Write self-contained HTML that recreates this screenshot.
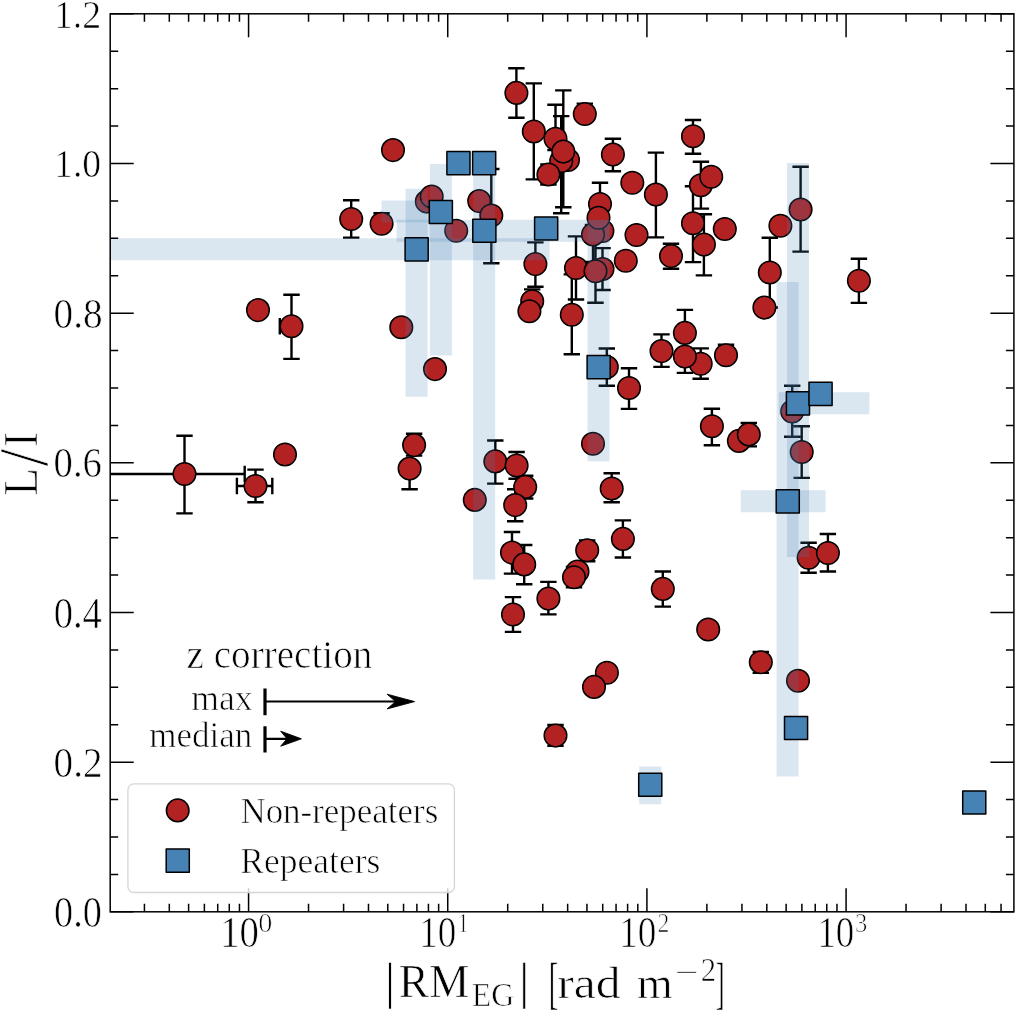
<!DOCTYPE html>
<html><head><meta charset="utf-8"><title>L/I vs RM</title>
<style>html,body{margin:0;padding:0;background:#fff;}svg{display:block;}</style>
</head><body>
<svg width="1016" height="1011" viewBox="0 0 1016 1011">
<defs><clipPath id="ax"><rect x="110.2" y="13.8" width="903.7" height="898.0"/></clipPath></defs>
<rect width="1016" height="1011" fill="#fff"/>
<g clip-path="url(#ax)">
<path d="M184.5 435.7V513.4M176.3 435.7H192.7M176.3 513.4H192.7M100.0 474.0H244.7M100.0 465.8V482.2M244.7 465.8V482.2M255.5 469.6V502.2M247.3 469.6H263.7M247.3 502.2H263.7M236.9 486.0H272.3M236.9 477.8V494.2M272.3 477.8V494.2M291.5 294.7V358.9M283.3 294.7H299.7M283.3 358.9H299.7M279.8 326.3H291.5M279.8 318.1V334.5M351.2 200.3V237.6M343.0 200.3H359.4M343.0 237.6H359.4M381.6 213.3V230.0M373.4 213.3H389.8M373.4 230.0H389.8M491.3 169.0V263.3M483.1 169.0H499.5M483.1 263.3H499.5M516.4 68.2V117.8M508.2 68.2H524.6M508.2 117.8H524.6M533.8 83.4V179.4M525.6 83.4H542.0M525.6 179.4H542.0M555.5 104.7V150.0M547.3 104.7H563.7M547.3 150.0H563.7M561.2 116.1V213.2M553.0 116.1H569.4M553.0 213.2H569.4M563.3 90.4V207.2M555.1 90.4H571.5M555.1 207.2H571.5M548.4 164.5V184.5M540.2 164.5H556.6M540.2 184.5H556.6M584.8 103.6V120.0M576.6 103.6H593.0M576.6 120.0H593.0M612.9 138.8V171.3M604.7 138.8H621.1M604.7 171.3H621.1M693.0 120.0V153.8M684.8 120.0H701.2M684.8 153.8H701.2M655.9 152.6V237.4M647.7 152.6H664.1M647.7 237.4H664.1M700.9 161.8V208.6M692.7 161.8H709.1M692.7 208.6H709.1M693.0 186.2V262.1M684.8 186.2H701.2M684.8 262.1H701.2M703.9 214.3V275.4M695.7 214.3H712.1M695.7 275.4H712.1M671.0 243.8V268.8M662.8 243.8H679.2M662.8 268.8H679.2M800.6 166.8V251.6M792.4 166.8H808.8M792.4 251.6H808.8M769.8 237.7V307.5M761.6 237.7H778.0M761.6 307.5H778.0M858.9 258.8V302.9M850.7 258.8H867.1M850.7 302.9H867.1M600.0 182.8V225.0M591.8 182.8H608.2M591.8 225.0H608.2M593.0 225.0V262.0M584.8 225.0H601.2M584.8 262.0H601.2M535.4 242.4V286.7M527.2 242.4H543.6M527.2 286.7H543.6M532.2 289.4V313.0M524.0 289.4H540.4M524.0 313.0H540.4M576.0 236.4V299.5M567.8 236.4H584.2M567.8 299.5H584.2M571.8 274.4V354.3M563.6 274.4H580.0M563.6 354.3H580.0M602.5 248.1V290.0M594.3 248.1H610.7M594.3 290.0H610.7M595.5 240.0V302.7M587.3 240.0H603.7M587.3 302.7H603.7M684.9 309.9V340.0M676.7 309.9H693.1M676.7 340.0H693.1M661.5 334.4V366.9M653.3 334.4H669.7M653.3 366.9H669.7M700.7 348.4V378.8M692.5 348.4H708.9M692.5 378.8H708.9M684.9 350.0V372.9M676.7 350.0H693.1M676.7 372.9H693.1M726.0 344.7V362.0M717.8 344.7H734.2M717.8 362.0H734.2M629.0 368.2V408.9M620.8 368.2H637.2M620.8 408.9H637.2M606.8 348.5V385.7M598.6 348.5H615.0M598.6 385.7H615.0M711.9 408.8V445.2M703.7 408.8H720.1M703.7 445.2H720.1M748.8 423.0V446.4M740.6 423.0H757.0M740.6 446.4H757.0M792.2 385.8V436.8M784.0 385.8H800.4M784.0 436.8H800.4M801.7 426.2V477.9M793.5 426.2H809.9M793.5 477.9H809.9M611.7 473.2V502.3M603.5 473.2H619.9M603.5 502.3H619.9M622.9 520.4V557.5M614.7 520.4H631.1M614.7 557.5H631.1M662.8 571.5V606.6M654.6 571.5H671.0M654.6 606.6H671.0M808.6 542.7V572.8M800.4 542.7H816.8M800.4 572.8H816.8M827.9 534.0V571.5M819.7 534.0H836.1M819.7 571.5H836.1M760.8 651.9V672.9M752.6 651.9H769.0M752.6 672.9H769.0M555.5 725.0V745.9M547.3 725.0H563.7M547.3 745.9H563.7M414.1 433.8V455.6M405.9 433.8H422.3M405.9 455.6H422.3M409.6 462.0V489.2M401.4 462.0H417.8M401.4 489.2H417.8M495.3 440.5V483.6M487.1 440.5H503.5M487.1 483.6H503.5M516.6 452.0V478.7M508.4 452.0H524.8M508.4 478.7H524.8M525.2 475.7V498.5M517.0 475.7H533.4M517.0 498.5H533.4M515.2 489.3V521.2M507.0 489.3H523.4M507.0 521.2H523.4M512.0 532.0V573.6M503.8 532.0H520.2M503.8 573.6H520.2M524.2 545.0V584.2M516.0 545.0H532.4M516.0 584.2H532.4M548.4 581.9V614.4M540.2 581.9H556.6M540.2 614.4H556.6M513.0 597.1V631.9M504.8 597.1H521.2M504.8 631.9H521.2M587.2 540.4V561.3M579.0 540.4H595.4M579.0 561.3H595.4M574.0 567.0V587.4M565.8 567.0H582.2M565.8 587.4H582.2" stroke="#000" stroke-width="2.4" fill="none"/>
<g fill="#b22222" stroke="#000" stroke-width="1.5">
<circle cx="184.5" cy="474.0" r="11.3"/>
<circle cx="255.5" cy="486.0" r="11.3"/>
<circle cx="285.0" cy="454.5" r="11.3"/>
<circle cx="258.0" cy="310.1" r="11.3"/>
<circle cx="291.5" cy="326.3" r="11.3"/>
<circle cx="351.2" cy="219.0" r="11.3"/>
<circle cx="381.6" cy="223.8" r="11.3"/>
<circle cx="393.0" cy="150.1" r="11.3"/>
<circle cx="401.3" cy="327.3" r="11.3"/>
<circle cx="435.0" cy="369.1" r="11.3"/>
<circle cx="426.8" cy="201.6" r="11.3"/>
<circle cx="431.7" cy="196.6" r="11.3"/>
<circle cx="456.2" cy="230.7" r="11.3"/>
<circle cx="479.2" cy="201.1" r="11.3"/>
<circle cx="491.3" cy="215.5" r="11.3"/>
<circle cx="516.4" cy="92.9" r="11.3"/>
<circle cx="533.8" cy="131.5" r="11.3"/>
<circle cx="555.5" cy="138.8" r="11.3"/>
<circle cx="568.0" cy="160.0" r="11.3"/>
<circle cx="561.2" cy="161.0" r="11.3"/>
<circle cx="563.3" cy="151.6" r="11.3"/>
<circle cx="548.4" cy="174.5" r="11.3"/>
<circle cx="584.8" cy="114.0" r="11.3"/>
<circle cx="612.9" cy="154.6" r="11.3"/>
<circle cx="632.3" cy="182.8" r="11.3"/>
<circle cx="693.0" cy="136.3" r="11.3"/>
<circle cx="655.9" cy="194.6" r="11.3"/>
<circle cx="700.9" cy="185.3" r="11.3"/>
<circle cx="711.2" cy="176.8" r="11.3"/>
<circle cx="636.5" cy="235.0" r="11.3"/>
<circle cx="693.0" cy="223.3" r="11.3"/>
<circle cx="703.9" cy="244.6" r="11.3"/>
<circle cx="724.8" cy="229.0" r="11.3"/>
<circle cx="671.0" cy="256.1" r="11.3"/>
<circle cx="800.6" cy="209.5" r="11.3"/>
<circle cx="780.4" cy="225.8" r="11.3"/>
<circle cx="769.8" cy="272.5" r="11.3"/>
<circle cx="764.4" cy="307.6" r="11.3"/>
<circle cx="858.9" cy="280.7" r="11.3"/>
<circle cx="600.0" cy="204.0" r="11.3"/>
<circle cx="602.4" cy="231.0" r="11.3"/>
<circle cx="593.0" cy="234.4" r="11.3"/>
<circle cx="598.5" cy="217.7" r="11.3"/>
<circle cx="535.4" cy="264.1" r="11.3"/>
<circle cx="532.2" cy="301.3" r="11.3"/>
<circle cx="529.4" cy="311.3" r="11.3"/>
<circle cx="576.0" cy="268.0" r="11.3"/>
<circle cx="571.8" cy="314.7" r="11.3"/>
<circle cx="602.5" cy="269.0" r="11.3"/>
<circle cx="595.5" cy="271.3" r="11.3"/>
<circle cx="625.8" cy="260.8" r="11.3"/>
<circle cx="684.9" cy="332.9" r="11.3"/>
<circle cx="661.5" cy="351.1" r="11.3"/>
<circle cx="700.7" cy="363.7" r="11.3"/>
<circle cx="684.9" cy="356.6" r="11.3"/>
<circle cx="726.0" cy="355.3" r="11.3"/>
<circle cx="629.0" cy="388.0" r="11.3"/>
<circle cx="606.8" cy="367.1" r="11.3"/>
<circle cx="593.0" cy="443.8" r="11.3"/>
<circle cx="711.9" cy="426.2" r="11.3"/>
<circle cx="738.9" cy="440.9" r="11.3"/>
<circle cx="748.8" cy="434.4" r="11.3"/>
<circle cx="792.2" cy="411.5" r="11.3"/>
<circle cx="801.7" cy="452.0" r="11.3"/>
<circle cx="611.7" cy="488.5" r="11.3"/>
<circle cx="622.9" cy="538.9" r="11.3"/>
<circle cx="662.8" cy="588.9" r="11.3"/>
<circle cx="708.2" cy="629.5" r="11.3"/>
<circle cx="808.6" cy="557.8" r="11.3"/>
<circle cx="827.9" cy="553.0" r="11.3"/>
<circle cx="760.8" cy="662.2" r="11.3"/>
<circle cx="798.0" cy="680.8" r="11.3"/>
<circle cx="606.9" cy="672.8" r="11.3"/>
<circle cx="594.0" cy="686.9" r="11.3"/>
<circle cx="555.5" cy="735.6" r="11.3"/>
<circle cx="414.1" cy="445.1" r="11.3"/>
<circle cx="409.6" cy="468.6" r="11.3"/>
<circle cx="495.3" cy="461.4" r="11.3"/>
<circle cx="516.6" cy="465.5" r="11.3"/>
<circle cx="525.2" cy="486.9" r="11.3"/>
<circle cx="515.2" cy="505.1" r="11.3"/>
<circle cx="474.8" cy="499.9" r="11.3"/>
<circle cx="512.0" cy="552.6" r="11.3"/>
<circle cx="524.2" cy="564.4" r="11.3"/>
<circle cx="548.4" cy="598.6" r="11.3"/>
<circle cx="513.0" cy="614.5" r="11.3"/>
<circle cx="587.2" cy="550.2" r="11.3"/>
<circle cx="577.5" cy="571.5" r="11.3"/>
<circle cx="574.0" cy="577.3" r="11.3"/>
</g>
<g stroke="#4682b4" stroke-opacity="0.2" stroke-width="22.0" fill="none">
<path d="M484.2 170.0V579.5"/>
<path d="M440.9 163.9V355.6"/>
<path d="M381.5 211.4H452.0"/>
<path d="M416.6 188.8V396.8"/>
<path d="M100.0 249.3H549.6"/>
<path d="M396.6 230.7H610.0"/>
<path d="M598.5 220.0V461.2"/>
<path d="M798.0 163.0V557.0"/>
<path d="M778.8 403.2H869.4"/>
<path d="M787.6 281.9V776.4"/>
<path d="M740.8 501.3H825.6"/>
<path d="M650.2 766.4V804.3"/>
</g>
<g fill="#4682b4" stroke="#000" stroke-width="1.5" stroke-linejoin="round">
<rect x="446.9" y="151.6" width="23.1" height="23.1"/>
<rect x="472.6" y="151.6" width="23.1" height="23.1"/>
<rect x="429.3" y="200.5" width="23.1" height="23.1"/>
<rect x="405.1" y="237.8" width="23.1" height="23.1"/>
<rect x="472.8" y="219.2" width="23.1" height="23.1"/>
<rect x="534.6" y="216.9" width="23.1" height="23.1"/>
<rect x="587.1" y="355.6" width="23.1" height="23.1"/>
<rect x="786.4" y="391.8" width="23.1" height="23.1"/>
<rect x="809.0" y="382.3" width="23.1" height="23.1"/>
<rect x="776.2" y="489.8" width="23.1" height="23.1"/>
<rect x="784.5" y="716.4" width="23.1" height="23.1"/>
<rect x="962.7" y="790.9" width="23.1" height="23.1"/>
<rect x="638.7" y="773.2" width="23.1" height="23.1"/>
</g>
</g>
<path d="M248.57 911.8v-23.5M248.57 13.8v23.5M447.74 911.8v-23.5M447.74 13.8v23.5M646.91 911.8v-23.5M646.91 13.8v23.5M846.08 911.8v-23.5M846.08 13.8v23.5M144.43 911.8v-8.0M144.43 13.8v8.0M169.31 911.8v-8.0M169.31 13.8v8.0M188.61 911.8v-8.0M188.61 13.8v8.0M204.38 911.8v-8.0M204.38 13.8v8.0M217.72 911.8v-8.0M217.72 13.8v8.0M229.27 911.8v-8.0M229.27 13.8v8.0M239.46 911.8v-8.0M239.46 13.8v8.0M308.53 911.8v-8.0M308.53 13.8v8.0M343.60 911.8v-8.0M343.60 13.8v8.0M368.48 911.8v-8.0M368.48 13.8v8.0M387.78 911.8v-8.0M387.78 13.8v8.0M403.55 911.8v-8.0M403.55 13.8v8.0M416.89 911.8v-8.0M416.89 13.8v8.0M428.44 911.8v-8.0M428.44 13.8v8.0M438.63 911.8v-8.0M438.63 13.8v8.0M507.70 911.8v-8.0M507.70 13.8v8.0M542.77 911.8v-8.0M542.77 13.8v8.0M567.65 911.8v-8.0M567.65 13.8v8.0M586.95 911.8v-8.0M586.95 13.8v8.0M602.72 911.8v-8.0M602.72 13.8v8.0M616.06 911.8v-8.0M616.06 13.8v8.0M627.61 911.8v-8.0M627.61 13.8v8.0M637.80 911.8v-8.0M637.80 13.8v8.0M706.87 911.8v-8.0M706.87 13.8v8.0M741.94 911.8v-8.0M741.94 13.8v8.0M766.82 911.8v-8.0M766.82 13.8v8.0M786.12 911.8v-8.0M786.12 13.8v8.0M801.89 911.8v-8.0M801.89 13.8v8.0M815.23 911.8v-8.0M815.23 13.8v8.0M826.78 911.8v-8.0M826.78 13.8v8.0M836.97 911.8v-8.0M836.97 13.8v8.0M906.04 911.8v-8.0M906.04 13.8v8.0M941.11 911.8v-8.0M941.11 13.8v8.0M965.99 911.8v-8.0M965.99 13.8v8.0M985.29 911.8v-8.0M985.29 13.8v8.0M1001.06 911.8v-8.0M1001.06 13.8v8.0M110.2 911.80h23.5M1013.9 911.80h-23.5M110.2 874.38h8.0M1013.9 874.38h-8.0M110.2 836.97h8.0M1013.9 836.97h-8.0M110.2 799.55h8.0M1013.9 799.55h-8.0M110.2 762.13h23.5M1013.9 762.13h-23.5M110.2 724.72h8.0M1013.9 724.72h-8.0M110.2 687.30h8.0M1013.9 687.30h-8.0M110.2 649.88h8.0M1013.9 649.88h-8.0M110.2 612.47h23.5M1013.9 612.47h-23.5M110.2 575.05h8.0M1013.9 575.05h-8.0M110.2 537.63h8.0M1013.9 537.63h-8.0M110.2 500.22h8.0M1013.9 500.22h-8.0M110.2 462.80h23.5M1013.9 462.80h-23.5M110.2 425.39h8.0M1013.9 425.39h-8.0M110.2 387.97h8.0M1013.9 387.97h-8.0M110.2 350.55h8.0M1013.9 350.55h-8.0M110.2 313.14h23.5M1013.9 313.14h-23.5M110.2 275.72h8.0M1013.9 275.72h-8.0M110.2 238.30h8.0M1013.9 238.30h-8.0M110.2 200.89h8.0M1013.9 200.89h-8.0M110.2 163.47h23.5M1013.9 163.47h-23.5M110.2 126.05h8.0M1013.9 126.05h-8.0M110.2 88.64h8.0M1013.9 88.64h-8.0M110.2 51.22h8.0M1013.9 51.22h-8.0M110.2 13.80h23.5M1013.9 13.80h-23.5" stroke="#000" stroke-width="1.5" fill="none"/>
<rect x="110.2" y="13.8" width="903.7" height="898.0" fill="none" stroke="#000" stroke-width="1.5"/>
<rect x="127.9" y="783.9" width="326.5" height="108.6" rx="6" fill="#fff" fill-opacity="0.8" stroke="#d6d6d6" stroke-width="1.3"/>
<circle cx="177.7" cy="810.4" r="11.3" fill="#b22222" stroke="#000" stroke-width="1.5"/>
<rect x="166.2" y="849.1" width="23.1" height="23.1" fill="#4682b4" stroke="#000" stroke-width="1.5" stroke-linejoin="round"/>
<path d="M265 688.6V715.2M265 726.2V752.5" stroke="#000" stroke-width="3.2" fill="none"/>
<path d="M265 701.5H396M265 738.8H287" stroke="#000" stroke-width="2.2" fill="none"/>
<path d="M414.6 701.6L387.1 694.2L395.6 701.6L387.1 708.9Z" fill="#000" stroke="#000" stroke-width="0.9" stroke-linejoin="round"/>
<path d="M301.4 738.8L280.7 731.2L287.0 738.8L280.7 746.2Z" fill="#000" stroke="#000" stroke-width="0.9" stroke-linejoin="round"/>
<text x="53.93" y="28.00" font-family="Liberation Serif, serif" stroke="#fff" stroke-width="0.7" font-size="39.58" textLength="47.35" lengthAdjust="spacingAndGlyphs">1.2</text>
<text x="54.04" y="176.70" font-family="Liberation Serif, serif" stroke="#fff" stroke-width="0.7" font-size="41.0" textLength="47.11" lengthAdjust="spacingAndGlyphs">1.0</text>
<text x="53.58" y="327.90" font-family="Liberation Serif, serif" stroke="#fff" stroke-width="0.7" font-size="43.05" textLength="49.08" lengthAdjust="spacingAndGlyphs">0.8</text>
<text x="53.61" y="477.20" font-family="Liberation Serif, serif" stroke="#fff" stroke-width="0.7" font-size="43.21" textLength="48.30" lengthAdjust="spacingAndGlyphs">0.6</text>
<text x="53.63" y="627.90" font-family="Liberation Serif, serif" stroke="#fff" stroke-width="0.7" font-size="43.68" textLength="48.29" lengthAdjust="spacingAndGlyphs">0.4</text>
<text x="53.56" y="777.40" font-family="Liberation Serif, serif" stroke="#fff" stroke-width="0.7" font-size="42.73" textLength="49.05" lengthAdjust="spacingAndGlyphs">0.2</text>
<text x="54.05" y="927.10" font-family="Liberation Serif, serif" stroke="#fff" stroke-width="0.7" font-size="43.68" textLength="47.85" lengthAdjust="spacingAndGlyphs">0.0</text>
<text x="220.15" y="947.10" font-family="Liberation Serif, serif" stroke="#fff" stroke-width="0.7" font-size="43.68" textLength="38.73" lengthAdjust="spacingAndGlyphs">10</text>
<text x="258.24" y="931.60" font-family="Liberation Serif, serif" stroke="#fff" stroke-width="0.7" font-size="26.55" textLength="14.13" lengthAdjust="spacingAndGlyphs">0</text>
<text x="419.31" y="947.10" font-family="Liberation Serif, serif" stroke="#fff" stroke-width="0.7" font-size="43.68" textLength="37.01" lengthAdjust="spacingAndGlyphs">10</text>
<text x="457.70" y="931.60" font-family="Liberation Serif, serif" stroke="#fff" stroke-width="0.7" font-size="26.55" textLength="10.62" lengthAdjust="spacingAndGlyphs">1</text>
<text x="619.20" y="947.10" font-family="Liberation Serif, serif" stroke="#fff" stroke-width="0.7" font-size="43.68" textLength="37.12" lengthAdjust="spacingAndGlyphs">10</text>
<text x="657.51" y="931.60" font-family="Liberation Serif, serif" stroke="#fff" stroke-width="0.7" font-size="26.55" textLength="11.83" lengthAdjust="spacingAndGlyphs">2</text>
<text x="817.42" y="947.10" font-family="Liberation Serif, serif" stroke="#fff" stroke-width="0.7" font-size="43.68" textLength="36.89" lengthAdjust="spacingAndGlyphs">10</text>
<text x="854.97" y="931.60" font-family="Liberation Serif, serif" stroke="#fff" stroke-width="0.7" font-size="26.55" textLength="12.32" lengthAdjust="spacingAndGlyphs">3</text>
<text x="383.50" y="998.10" font-family="Liberation Serif, serif" stroke="#fff" stroke-width="0.7" font-size="50.0" textLength="13.02" lengthAdjust="spacingAndGlyphs">|</text>
<text x="398.74" y="996.80" font-family="Liberation Serif, serif" stroke="#fff" stroke-width="0.7" font-size="47.05" textLength="70.54" lengthAdjust="spacingAndGlyphs">RM</text>
<text x="471.83" y="1005.70" font-family="Liberation Serif, serif" stroke="#fff" stroke-width="0.7" font-size="32.96" textLength="42.58" lengthAdjust="spacingAndGlyphs">EG</text>
<text x="518.20" y="998.30" font-family="Liberation Serif, serif" stroke="#fff" stroke-width="0.7" font-size="50.0" textLength="12.02" lengthAdjust="spacingAndGlyphs">|</text>
<text x="548.70" y="1002.30" font-family="Liberation Serif, serif" stroke="#fff" stroke-width="0.7" font-size="56.91" textLength="9.48" lengthAdjust="spacingAndGlyphs">[</text>
<text x="557.27" y="998.20" font-family="Liberation Serif, serif" stroke="#fff" stroke-width="0.7" font-size="44.05" textLength="63.41" lengthAdjust="spacingAndGlyphs">rad</text>
<text x="637.06" y="998.10" font-family="Liberation Serif, serif" stroke="#fff" stroke-width="0.7" font-size="44.12" textLength="35.77" lengthAdjust="spacingAndGlyphs">m</text>
<text x="700.76" y="981.40" font-family="Liberation Serif, serif" stroke="#fff" stroke-width="0.7" font-size="32.96" textLength="15.42" lengthAdjust="spacingAndGlyphs">2</text>
<text x="715.66" y="1002.30" font-family="Liberation Serif, serif" stroke="#fff" stroke-width="0.7" font-size="56.43" textLength="8.82" lengthAdjust="spacingAndGlyphs">]</text>
<text x="240.43" y="823.10" font-family="Liberation Serif, serif" stroke="#fff" stroke-width="0.7" font-size="36" textLength="197.83" lengthAdjust="spacingAndGlyphs">Non-repeaters</text>
<text x="240.31" y="873.20" font-family="Liberation Serif, serif" stroke="#fff" stroke-width="0.7" font-size="36" textLength="140.01" lengthAdjust="spacingAndGlyphs">Repeaters</text>
<text x="186.51" y="667.80" font-family="Liberation Serif, serif" stroke="#fff" stroke-width="0.7" font-size="39.5" textLength="185.90" lengthAdjust="spacingAndGlyphs">z correction</text>
<text x="191.18" y="710.10" font-family="Liberation Serif, serif" stroke="#fff" stroke-width="0.7" font-size="35" textLength="61.39" lengthAdjust="spacingAndGlyphs">max</text>
<text x="149.20" y="746.80" font-family="Liberation Serif, serif" stroke="#fff" stroke-width="0.7" font-size="35" textLength="103.13" lengthAdjust="spacingAndGlyphs">median</text>
<text transform="translate(36.50 495.72) rotate(-90)" font-family="Liberation Serif, serif" stroke="#fff" stroke-width="0.7" font-size="49.46" textLength="27.89" lengthAdjust="spacingAndGlyphs">L</text>
<text transform="translate(47.30 466.30) rotate(-90)" font-family="Liberation Serif, serif" stroke="#fff" stroke-width="0.7" font-size="70.3" textLength="17.37" lengthAdjust="spacingAndGlyphs">/</text>
<text transform="translate(36.50 446.67) rotate(-90)" font-family="Liberation Serif, serif" stroke="#fff" stroke-width="0.7" font-size="49.46" textLength="14.57" lengthAdjust="spacingAndGlyphs">I</text>
<text x="674.57" y="983.40" font-family="Liberation Serif, serif" stroke="#fff" stroke-width="0.7" font-size="32.5" textLength="24.09" lengthAdjust="spacingAndGlyphs">−</text>
</svg>
</body></html>
